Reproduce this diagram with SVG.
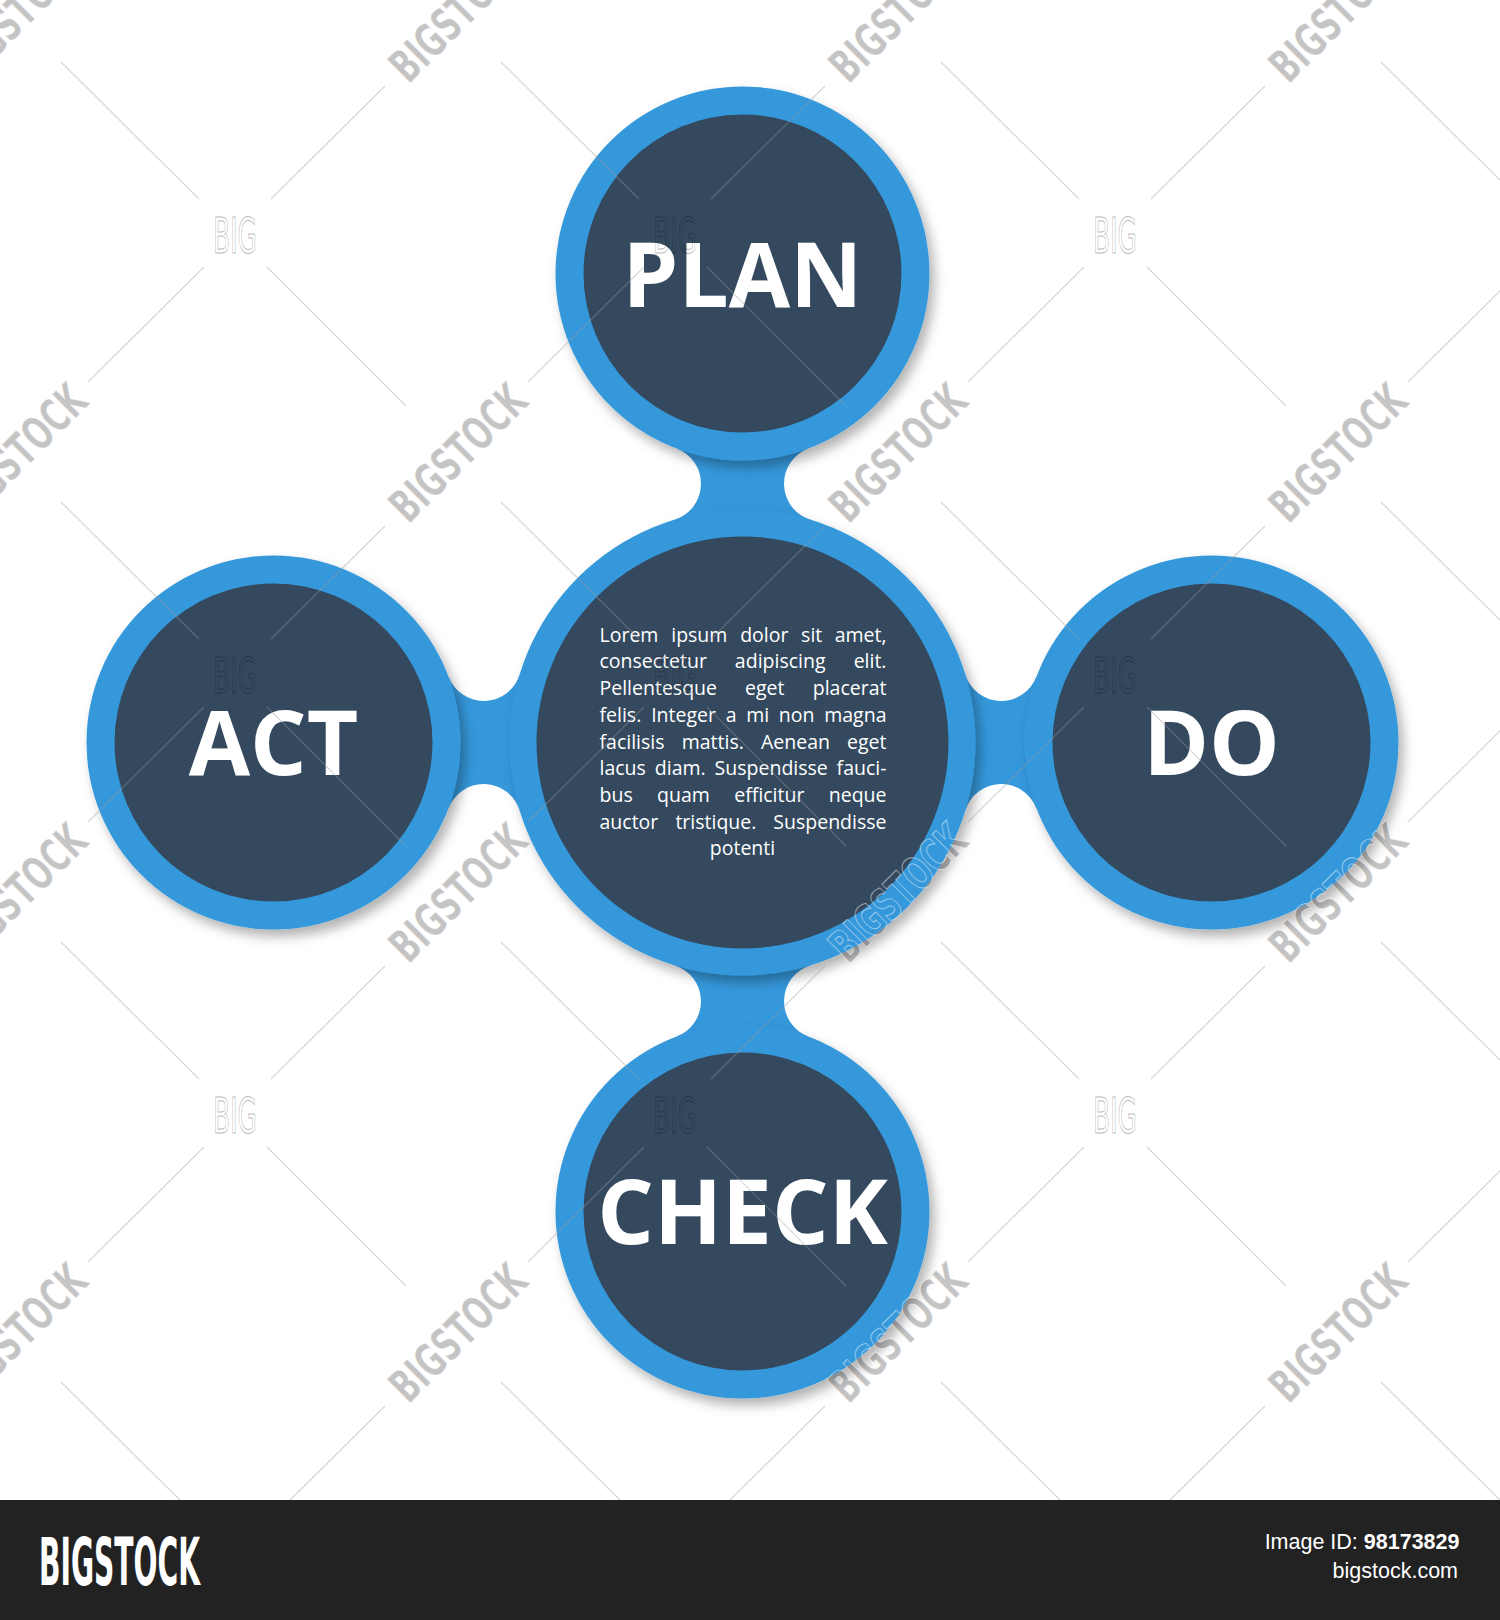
<svg xmlns="http://www.w3.org/2000/svg" xmlns:xlink="http://www.w3.org/1999/xlink" width="1500" height="1620" viewBox="0 0 1500 1620">
<style>
.ring{fill:#3598db}
.core{fill:#34495e}
.bridge{fill:#3598db}
.lbl{font-family:"Open Sans","Liberation Sans",sans-serif;font-weight:700;font-size:89px;fill:#fff;text-anchor:middle}
.body{font-family:"Open Sans","Liberation Sans",sans-serif;font-size:19.5px;fill:#fff}
.m{text-anchor:middle}
.e{text-anchor:end}
.wml{stroke:#9a9a9a;stroke-opacity:.4;stroke-width:1.2;fill:none}
.wmbig{font-family:"Liberation Sans Narrow","DejaVu Sans Condensed",sans-serif;font-size:50px;fill:none;stroke:#000;stroke-opacity:.3;stroke-width:1;text-anchor:middle}
.wms{font-family:"Liberation Sans Narrow","DejaVu Sans Condensed",sans-serif;font-weight:700;font-size:46px;text-anchor:middle}
.wmsf{fill:#c4c4c4}
.wmso{fill:none;stroke:#fff;stroke-opacity:.5;stroke-width:1}
.bar{font-family:"Liberation Sans",Arial,sans-serif;font-size:21.5px;fill:#fff;text-anchor:end}
</style>
<defs>
<filter id="sh" x="-20%" y="-20%" width="150%" height="150%">
<feDropShadow dx="5" dy="7" stdDeviation="6" flood-color="#000" flood-opacity="0.3"/>
</filter>
<g id="wmLines">
<line x1="-174" y1="-173" x2="-36" y2="-36"/>
<line x1="36" y1="-36" x2="150" y2="-149"/>
<line x1="-31" y1="32" x2="-147" y2="147"/>
<line x1="32" y1="32" x2="171" y2="171"/>
</g>
<text id="wmBig" class="wmbig" x="0" y="18" textLength="44" lengthAdjust="spacingAndGlyphs">BIG</text>
<text id="wmStamp" class="wms" x="0" y="16" transform="rotate(-45)" textLength="172" lengthAdjust="spacingAndGlyphs">BIGSTOCK</text>
<path id="br" d="M676.6,448.5 A37.7,37.7 0 0 1 674.3,519.8 L810.7,519.8 A37.7,37.7 0 0 1 808.4,448.5 Z"/>
</defs>

<rect x="0" y="0" width="1500" height="1620" fill="#fff"/>

<g id="watermark-under" class="wmsf">
<use xlink:href="#wmStamp" x="18" y="13"/><use xlink:href="#wmStamp" x="458" y="13"/><use xlink:href="#wmStamp" x="898" y="13"/><use xlink:href="#wmStamp" x="1338" y="13"/>
<use xlink:href="#wmStamp" x="18" y="453"/><use xlink:href="#wmStamp" x="458" y="453"/><use xlink:href="#wmStamp" x="898" y="453"/><use xlink:href="#wmStamp" x="1338" y="453"/>
<use xlink:href="#wmStamp" x="18" y="893"/><use xlink:href="#wmStamp" x="458" y="893"/><use xlink:href="#wmStamp" x="898" y="893"/><use xlink:href="#wmStamp" x="1338" y="893"/>
<use xlink:href="#wmStamp" x="18" y="1333"/><use xlink:href="#wmStamp" x="458" y="1333"/><use xlink:href="#wmStamp" x="898" y="1333"/><use xlink:href="#wmStamp" x="1338" y="1333"/>
</g>

<g id="connectors" class="bridge">
<use xlink:href="#br"/>
<use xlink:href="#br" transform="rotate(90 742.5 742.5)"/>
<use xlink:href="#br" transform="rotate(180 742.5 742.5)"/>
<use xlink:href="#br" transform="rotate(270 742.5 742.5)"/>
</g>

<g id="node-center">
<circle class="ring" cx="742.5" cy="742.5" r="233" filter="url(#sh)"/>
<circle class="core" cx="742.5" cy="742.5" r="206"/>
<g class="body">
<text x="599.5" y="641.7">Lorem</text><text class="m" x="699.3" y="641.7">ipsum</text><text class="m" x="764.3" y="641.7">dolor</text><text class="m" x="811.7" y="641.7">sit</text><text class="e" x="886.5" y="641.7">amet,</text>
<text x="599.5" y="668.4">consectetur</text><text class="m" x="780.2" y="668.4">adipiscing</text><text class="e" x="886.5" y="668.4">elit.</text>
<text x="599.5" y="695.1">Pellentesque</text><text class="m" x="764.8" y="695.1">eget</text><text class="e" x="886.5" y="695.1">placerat</text>
<text x="599.5" y="721.8">felis.</text><text class="m" x="683.6" y="721.8">Integer</text><text class="m" x="731.2" y="721.8">a</text><text class="m" x="757.7" y="721.8">mi</text><text class="m" x="796.6" y="721.8">non</text><text class="e" x="886.5" y="721.8">magna</text>
<text x="599.5" y="748.5">facilisis</text><text class="m" x="712.8" y="748.5">mattis.</text><text class="m" x="795.5" y="748.5">Aenean</text><text class="e" x="886.5" y="748.5">eget</text>
<text x="599.5" y="775.2">lacus</text><text class="m" x="680.3" y="775.2">diam.</text><text class="m" x="771.2" y="775.2">Suspendisse</text><text class="e" x="886.5" y="775.2">fauci-</text>
<text x="599.5" y="801.9">bus</text><text class="m" x="683.5" y="801.9">quam</text><text class="m" x="769.3" y="801.9">efficitur</text><text class="e" x="886.5" y="801.9">neque</text>
<text x="599.5" y="828.6">auctor</text><text class="m" x="715.9" y="828.6">tristique.</text><text class="e" x="886.5" y="828.6">Suspendisse</text>
<text class="m" x="742.5" y="855.3">potenti</text>
</g>
</g>

<g id="node-plan">
<circle class="ring" cx="742.5" cy="273.5" r="187" filter="url(#sh)"/>
<circle class="core" cx="742.5" cy="273.5" r="159"/>
<text class="lbl" x="742.5" y="306.5">PLAN</text>
</g>
<g id="node-do">
<circle class="ring" cx="1211.5" cy="742.5" r="187" filter="url(#sh)"/>
<circle class="core" cx="1211.5" cy="742.5" r="159"/>
<text class="lbl" x="1211.5" y="775">DO</text>
</g>
<g id="node-check">
<circle class="ring" cx="742.5" cy="1211.5" r="187" filter="url(#sh)"/>
<circle class="core" cx="742.5" cy="1211.5" r="159"/>
<text class="lbl" x="742.5" y="1243.5">CHECK</text>
</g>
<g id="node-act">
<circle class="ring" cx="273.5" cy="742.5" r="187" filter="url(#sh)"/>
<circle class="core" cx="273.5" cy="742.5" r="159"/>
<text class="lbl" x="273.5" y="775">ACT</text>
</g>

<g id="watermark-over">
<g class="wml">
<use xlink:href="#wmLines" x="235" y="235"/><use xlink:href="#wmLines" x="675" y="235"/><use xlink:href="#wmLines" x="1115" y="235"/><use xlink:href="#wmLines" x="1555" y="235"/>
<use xlink:href="#wmLines" x="235" y="675"/><use xlink:href="#wmLines" x="675" y="675"/><use xlink:href="#wmLines" x="1115" y="675"/><use xlink:href="#wmLines" x="1555" y="675"/>
<use xlink:href="#wmLines" x="235" y="1115"/><use xlink:href="#wmLines" x="675" y="1115"/><use xlink:href="#wmLines" x="1115" y="1115"/><use xlink:href="#wmLines" x="1555" y="1115"/>
<use xlink:href="#wmLines" x="235" y="1555"/><use xlink:href="#wmLines" x="675" y="1555"/><use xlink:href="#wmLines" x="1115" y="1555"/><use xlink:href="#wmLines" x="1555" y="1555"/>
</g>
<use xlink:href="#wmBig" x="235" y="235"/><use xlink:href="#wmBig" x="675" y="235"/><use xlink:href="#wmBig" x="1115" y="235"/>
<use xlink:href="#wmBig" x="235" y="675"/><use xlink:href="#wmBig" x="675" y="675"/><use xlink:href="#wmBig" x="1115" y="675"/>
<use xlink:href="#wmBig" x="235" y="1115"/><use xlink:href="#wmBig" x="675" y="1115"/><use xlink:href="#wmBig" x="1115" y="1115"/>
<g class="wmso">
<use xlink:href="#wmStamp" x="18" y="13"/><use xlink:href="#wmStamp" x="458" y="13"/><use xlink:href="#wmStamp" x="898" y="13"/><use xlink:href="#wmStamp" x="1338" y="13"/>
<use xlink:href="#wmStamp" x="18" y="453"/><use xlink:href="#wmStamp" x="458" y="453"/><use xlink:href="#wmStamp" x="898" y="453"/><use xlink:href="#wmStamp" x="1338" y="453"/>
<use xlink:href="#wmStamp" x="18" y="893"/><use xlink:href="#wmStamp" x="458" y="893"/><use xlink:href="#wmStamp" x="898" y="893"/><use xlink:href="#wmStamp" x="1338" y="893"/>
<use xlink:href="#wmStamp" x="18" y="1333"/><use xlink:href="#wmStamp" x="458" y="1333"/><use xlink:href="#wmStamp" x="898" y="1333"/><use xlink:href="#wmStamp" x="1338" y="1333"/>
</g>
</g>

<g id="footer">
<rect x="0" y="1500" width="1500" height="120" fill="#222222"/>
<text x="39" y="1585" font-family="'Liberation Sans Narrow','DejaVu Sans Condensed',sans-serif" font-weight="700" font-size="66" fill="#fff" textLength="161" lengthAdjust="spacingAndGlyphs">BIGSTOCK</text>
<text class="bar" x="1459.5" y="1549">Image ID: <tspan font-weight="700">98173829</tspan></text>
<text class="bar" x="1458" y="1578">bigstock.com</text>
</g>
</svg>
